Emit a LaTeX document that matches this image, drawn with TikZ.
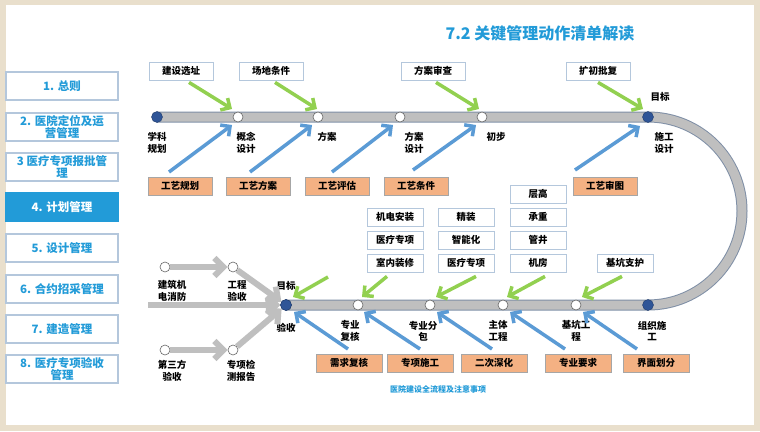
\documentclass[tikz,border=0pt]{standalone}
\usepackage{fontspec}
\setmainfont{Noto Sans CJK SC}
\usetikzlibrary{arrows.meta}
\definecolor{bgb}{HTML}{E9DFCC}
\definecolor{tblue}{HTML}{229BD8}
\definecolor{nblue}{HTML}{2F5597}
\definecolor{lgray}{HTML}{BFBFBF}
\definecolor{dgray}{HTML}{7F8FA6}
\definecolor{ora}{HTML}{F4B183}
\definecolor{grn}{HTML}{92D050}
\definecolor{abl}{HTML}{5B9BD5}
\definecolor{bbord}{HTML}{B4C7DC}
\begin{document}
\begin{tikzpicture}[x=1pt,y=-1pt,font=\bfseries,
  menu/.style={draw=bbord,line width=1.2pt,fill=white,minimum width=112pt,minimum height=28pt,align=center,text=tblue,font=\bfseries\fontsize{11.5}{12.5}\selectfont,inner sep=1pt},
  wbox/.style={draw=bbord,line width=0.8pt,fill=white,minimum width=56pt,minimum height=18pt,font=\bfseries\fontsize{9.5}{10}\selectfont,inner sep=1pt},
  obox/.style={draw=gray!70,line width=0.6pt,fill=ora,minimum width=64pt,minimum height=18pt,font=\bfseries\fontsize{9.5}{10}\selectfont,inner sep=1pt},
  lab/.style={font=\bfseries\fontsize{9.5}{11.5}\selectfont,align=center,inner sep=0pt},
  wdot/.style={circle,draw=gray!80!black,fill=white,minimum size=10pt,inner sep=0pt,line width=0.6pt},
  bdot/.style={circle,draw=nblue!70!black,fill=nblue,minimum size=11pt,inner sep=0pt},
  garr/.style={draw=grn,line width=3.5pt,-{Straight Barb[length=7pt,width=14pt]}},
  barr/.style={draw=abl,line width=3.5pt,-{Straight Barb[length=7pt,width=14pt]}},
  yarr/.style={draw=lgray,line width=6pt,-{Straight Barb[length=9pt,width=18pt]}}]
\fill[bgb] (0,0) rectangle (760,431);
\fill[white] (6,5) rectangle (754,425);
\useasboundingbox (0,0) rectangle (760,431);
% menu
\node[menu] (m1) at (62,86) {1. 总则};
\node[menu] (m2) at (62,127) {2. 医院定位及运\\营管理};
\node[menu] (m3) at (62,167) {3 医疗专项报批管\\理};
\node[menu,fill=tblue,draw=tblue,text=white] (m4) at (62,207) {4. 计划管理};
\node[menu] (m5) at (62,248) {5. 设计管理};
\node[menu] (m6) at (62,289) {6. 合约招采管理};
\node[menu] (m7) at (62,329) {7. 建造管理};
\node[menu] (m8) at (62,369) {8. 医疗专项验收\\管理};
\node[text=tblue,font=\bfseries\fontsize{16}{18}\selectfont] (title) at (540,33) {7.2 关键管理动作清单解读};
% track
\def\trk{(157,117) -- (648,117) .. controls (699.9,117) and (742,159.1) .. (742,211) .. controls (742,262.9) and (699.9,305) .. (648,305) -- (286,305)}
\draw[dgray,line width=11pt] \trk;
\draw[lgray,line width=9pt] \trk;
% top nodes
\node[bdot] (t1) at (157,117) {};
\node[wdot] (t2) at (238,117) {};
\node[wdot] (t3) at (318,117) {};
\node[wdot] (t4) at (400,117) {};
\node[wdot] (t5) at (482,117) {};
\node[bdot] (t6) at (648,117) {};
\node[lab] (lt1) at (157,143) {学科\\规划};
\node[lab] (lt2) at (246,143) {概念\\设计};
\node[lab] (lt3) at (327,137) {方案};
\node[lab] (lt4) at (414,143) {方案\\设计};
\node[lab] (lt5) at (496,137) {初步};
\node[lab] (lt6) at (664,143) {施工\\设计};
\node[lab] (g1) at (660,97) {目标};
\node[wbox,minimum width=64pt] (a1) at (181,71) {建设选址};
\node[wbox,minimum width=64pt] (a2) at (271,71) {场地条件};
\node[wbox,minimum width=64pt] (a3) at (433,71) {方案审查};
\node[wbox,minimum width=64pt] (a4) at (598,71) {扩初批复};
\coordinate (e1) at (232,109); \coordinate (e2) at (317,109);
\coordinate (e3) at (479,109); \coordinate (e4) at (643,109);
\draw[garr] (a1.south)++(8,2) -- (e1);
\draw[garr] (a2.south)++(4,2) -- (e2);
\draw[garr] (a3.south)++(3,2) -- (e3);
\draw[garr] (a4.south)++(0,2) -- (e4);
\node[obox] (o1) at (180,186) {工艺规划};
\node[obox] (o2) at (258,186) {工艺方案};
\node[obox] (o3) at (337,186) {工艺评估};
\node[obox] (o4) at (416,186) {工艺条件};
\node[obox] (o5) at (605,186) {工艺审图};
\coordinate (f1) at (232,125); \coordinate (f2) at (312,125);
\coordinate (f3) at (393,125); \coordinate (f4) at (476,125); \coordinate (f5) at (640,126);
\draw[barr] (169,172) -- (f1);
\draw[barr] (250,172) -- (f2);
\draw[barr] (332,172) -- (f3);
\draw[barr] (413,170) -- (f4);
\draw[barr] (575,170) -- (f5);
% middle boxes
\node[wbox] (c1) at (395,217) {机电安装};
\node[wbox] (c2) at (395,240) {医疗专项};
\node[wbox] (c3) at (395,263) {室内装修};
\node[wbox] (d1) at (466,217) {精装};
\node[wbox] (d2) at (466,240) {智能化};
\node[wbox] (d3) at (466,263) {医疗专项};
\node[wbox] (h0) at (538,194) {层高};
\node[wbox] (h1) at (538,217) {承重};
\node[wbox] (h2) at (538,240) {管井};
\node[wbox] (h3) at (538,263) {机房};
\node[wbox] (k1) at (625,263) {基坑支护};
% bottom nodes
\node[bdot] (b1) at (286,305) {};
\node[wdot] (b2) at (358,305) {};
\node[wdot] (b3) at (430,305) {};
\node[wdot] (b4) at (503,305) {};
\node[wdot] (b5) at (576,305) {};
\node[bdot] (b6) at (648,305) {};
\node[lab] (g2) at (286,286) {目标};
\node[lab] (lb1) at (286,328) {验收};
\node[lab] (lb2) at (350,331) {专业\\复核};
\node[lab] (lb3) at (423,331) {专业分\\包};
\node[lab] (lb4) at (498,331) {主体\\工程};
\node[lab] (lb5) at (576,331) {基坑工\\程};
\node[lab] (lb6) at (652,331) {组织施\\工};
\coordinate (p1) at (293,297); \coordinate (p2) at (362,297);
\coordinate (p3) at (436,297); \coordinate (p4) at (507,297); \coordinate (p5) at (582,297);
\draw[garr] (328,277) -- (p1);
\draw[garr] (c3.south)++(-8,4) -- (p2);
\draw[garr] (d3.south)++(10,4) -- (p3);
\draw[garr] (h3.south)++(7,4) -- (p4);
\draw[garr] (k1.south)++(-3,4) -- (p5);
\node[obox,minimum width=66pt] (q1) at (349,363) {需求复核};
\node[obox,minimum width=66pt] (q2) at (420,363) {专项施工};
\node[obox,minimum width=66pt] (q3) at (494,363) {二次深化};
\node[obox,minimum width=66pt] (q4) at (578,363) {专业要求};
\node[obox,minimum width=66pt] (q5) at (656,363) {界面划分};
\coordinate (r1) at (294,312); \coordinate (r2) at (364,312);
\coordinate (r3) at (437,312); \coordinate (r4) at (510,312); \coordinate (r5) at (583,312);
\draw[barr] (348,349) -- (r1);
\draw[barr] (420,349) -- (r2);
\draw[barr] (492,349) -- (r3);
\draw[barr] (565,349) -- (r4);
\draw[barr] (637,349) -- (r5);
\node[text=tblue,font=\bfseries\fontsize{8}{9}\selectfont] (cap) at (438,389) {医院建设全流程及注意事项};
% left acceptance part
\node[wdot] (s1) at (165,267) {};
\node[wdot] (s2) at (233,267) {};
\node[wdot] (s3) at (165,350) {};
\node[wdot] (s4) at (233,350) {};
\coordinate (hs) at (148,305);
\draw[yarr] (s1) -- (s2);
\draw[yarr] (s3) -- (s4);
\draw[yarr] (hs) -- (b1);
\draw[yarr] (s2) -- (b1);
\draw[yarr] (s4) -- (b1);
\node[bdot] (b1b) at (286,305) {};
\node[lab] (ls1) at (172,291) {建筑机\\电消防};
\node[lab] (ls2) at (237,291) {工程\\验收};
\node[lab] (ls3) at (172,371) {第三方\\验收};
\node[lab] (ls4) at (241,371) {专项检\\测报告};
\end{tikzpicture}
\end{document}
